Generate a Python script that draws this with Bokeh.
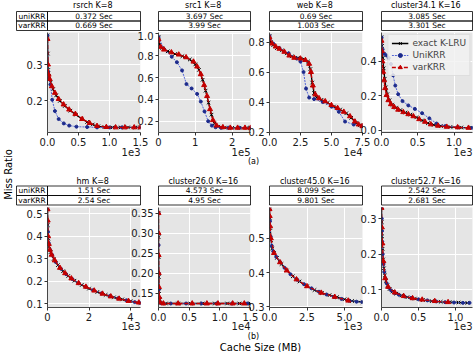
from bokeh.plotting import figure
from bokeh.models import (Range1d, FixedTicker, CustomJSTickFormatter, GridBox,
                          Legend, LegendItem)
from bokeh.embed import file_html
from bokeh.resources import INLINE
from bokeh.core.properties import value

W, H = 474, 352
FONT = "DejaVu Sans"

# ---------------- texts ----------------
titles = ["rsrch  K=8", "src1  K=8", "web  K=8", "cluster34.1  K=16",
          "hm  K=8", "cluster26.0  K=16", "cluster45.0  K=16", "cluster52.7  K=16"]
uni_times = ["0.372 Sec", "3.697 Sec", "0.69 Sec", "3.085 Sec",
             "1.51 Sec", "4.573 Sec", "8.099 Sec", "2.542 Sec"]
var_times = ["0.669 Sec", "3.99 Sec", "1.003 Sec", "3.301 Sec",
             "2.54 Sec", "4.95 Sec", "9.801 Sec", "2.681 Sec"]
row_labels = ["uniKRR", "varKRR"]
series_names = ["exact K-LRU", "UniKRR", "varKRR"]
offset_labels = ["1e3", "1e5", "1e4", "1e3", "1e3", "1e4", "1e3", "1e3"]
panel_tags = ["(a)", "(b)"]
x_label = "Cache Size (MB)"
y_label = "Miss Ratio"

# ---------------- axes ----------------
x_max = [1502, 250000, 75100, 1255, 4480, 15010, 6200, 1230]
y_lims = [(0.113, 0.388), (0.097, 1.012), (0.197, 0.864), (-0.012, 0.568),
          (0.084, 0.528), (0.114, 0.364), (0.298, 0.59), (0.05, 0.331)]
x_ticks = [[0, 500, 1000, 1500], [0, 100000, 200000], [0, 25000, 50000, 75000],
           [0, 500, 1000], [0, 2000, 4000], [0, 5000, 10000, 15000],
           [0, 2500, 5000], [0, 500, 1000]]
x_scale = [1e3, 1e5, 1e4, 1e3, 1e3, 1e4, 1e3, 1e3]
x_dec = [1, 0, 1, 1, 0, 1, 1, 1]
y_ticks = [[0.2, 0.3], [0.2, 0.4, 0.6, 0.8, 1.0], [0.2, 0.4, 0.6, 0.8], [0.0, 0.2, 0.4],
           [0.1, 0.2, 0.3, 0.4, 0.5], [0.15, 0.2, 0.25, 0.3, 0.35], [0.3, 0.4, 0.5],
           [0.1, 0.2, 0.3]]
y_dec = [1, 1, 1, 1, 1, 2, 1, 1]

# ---------------- data ----------------
rsrch_exact_x = [0, 5, 12, 25, 50, 90, 140, 200, 280, 370, 460, 550, 640, 730, 820, 920, 1050, 1180, 1300, 1420, 1500]
rsrch_exact_y = [0.38, 0.33, 0.285, 0.268, 0.25, 0.232, 0.215, 0.2, 0.186, 0.173, 0.162, 0.151, 0.142, 0.135, 0.13, 0.128, 0.127, 0.127, 0.127, 0.127, 0.127]
rsrch_uni_x = [0, 10, 25, 48, 76, 120, 180, 263, 350, 468, 640, 800, 1000, 1200, 1500]
rsrch_uni_y = [0.38, 0.28, 0.262, 0.245, 0.203, 0.172, 0.15, 0.138, 0.132, 0.129, 0.128, 0.127, 0.127, 0.127, 0.127]
rsrch_var_x = [0, 8, 18, 35, 70, 120, 180, 260, 350, 450, 560, 680, 800, 950, 1100, 1250, 1400, 1500]
rsrch_var_y = [0.37, 0.3, 0.272, 0.26, 0.24, 0.222, 0.205, 0.19, 0.176, 0.164, 0.15, 0.139, 0.131, 0.128, 0.127, 0.127, 0.127, 0.127]

src1_exact_x = [0, 3e3, 1e4, 2.5e4, 4.5e4, 6.5e4, 8.5e4, 1.0e5, 1.1e5, 1.2e5, 1.28e5, 1.36e5, 1.44e5, 1.52e5, 1.62e5, 1.8e5, 2.0e5, 2.2e5, 2.4e5, 2.5e5]
src1_exact_y = [0.97, 0.9, 0.87, 0.84, 0.815, 0.795, 0.765, 0.72, 0.67, 0.58, 0.48, 0.37, 0.26, 0.18, 0.15, 0.142, 0.14, 0.14, 0.14, 0.14]
src1_uni_x = [0, 1.5e4, 3.6e4, 5.0e4, 6.4e4, 7.6e4, 9.0e4, 1.05e5, 1.15e5, 1.25e5, 1.35e5, 1.45e5, 1.55e5, 1.7e5, 1.9e5, 2.2e5, 2.5e5]
src1_uni_y = [0.97, 0.86, 0.79, 0.74, 0.665, 0.54, 0.5, 0.45, 0.38, 0.29, 0.2, 0.16, 0.145, 0.14, 0.14, 0.14, 0.14]
src1_var_x = [0, 6e3, 1.5e4, 3.5e4, 5.5e4, 7.5e4, 9.5e4, 1.05e5, 1.15e5, 1.24e5, 1.32e5, 1.4e5, 1.48e5, 1.58e5, 1.75e5, 1.95e5, 2.15e5, 2.35e5, 2.5e5]
src1_var_y = [0.95, 0.88, 0.855, 0.83, 0.81, 0.785, 0.745, 0.7, 0.63, 0.53, 0.43, 0.31, 0.21, 0.16, 0.145, 0.14, 0.14, 0.14, 0.14]

web_exact_x = [0, 1e3, 3e3, 6e3, 1.0e4, 1.4e4, 1.8e4, 2.3e4, 2.8e4, 3.1e4, 3.3e4, 3.45e4, 3.6e4, 3.8e4, 4.2e4, 4.7e4, 5.2e4, 5.7e4, 6.2e4, 6.6e4, 7.0e4, 7.3e4, 7.5e4]
web_exact_y = [0.84, 0.8, 0.78, 0.76, 0.745, 0.725, 0.705, 0.695, 0.685, 0.67, 0.62, 0.53, 0.46, 0.43, 0.415, 0.395, 0.37, 0.35, 0.325, 0.295, 0.26, 0.245, 0.24]
web_uni_x = [0, 3e3, 8e3, 1.55e4, 2.2e4, 2.5e4, 2.75e4, 2.95e4, 3.2e4, 3.6e4, 4.3e4, 5.0e4, 5.6e4, 6.1e4, 6.8e4, 7.5e4]
web_uni_y = [0.84, 0.79, 0.76, 0.725, 0.69, 0.67, 0.6, 0.49, 0.43, 0.42, 0.4, 0.37, 0.335, 0.27, 0.25, 0.24]
web_var_x = [0, 2e3, 5e3, 8e3, 1.2e4, 1.6e4, 2.0e4, 2.5e4, 2.9e4, 3.2e4, 3.35e4, 3.5e4, 3.7e4, 4.0e4, 4.5e4, 5.0e4, 5.5e4, 6.0e4, 6.5e4, 6.9e4, 7.2e4, 7.5e4]
web_var_y = [0.83, 0.79, 0.77, 0.755, 0.735, 0.71, 0.695, 0.69, 0.68, 0.655, 0.6, 0.51, 0.45, 0.425, 0.405, 0.38, 0.36, 0.335, 0.305, 0.27, 0.25, 0.24]

c34_exact_x = [0, 8, 18, 30, 45, 60, 80, 110, 150, 200, 260, 330, 400, 480, 560, 640, 720, 820, 950, 1100, 1250]
c34_exact_y = [0.54, 0.49, 0.42, 0.36, 0.3, 0.25, 0.21, 0.175, 0.148, 0.132, 0.118, 0.104, 0.092, 0.076, 0.058, 0.042, 0.032, 0.025, 0.02, 0.017, 0.015]
c34_uni_x = [0, 15, 40, 70, 100, 130, 160, 190, 230, 290, 370, 460, 560, 660, 760, 880, 1050, 1250]
c34_uni_y = [0.54, 0.47, 0.445, 0.435, 0.42, 0.385, 0.32, 0.26, 0.21, 0.17, 0.145, 0.125, 0.1, 0.07, 0.04, 0.025, 0.018, 0.015]
c34_var_x = [0, 5, 12, 22, 35, 50, 70, 95, 130, 175, 230, 300, 370, 440, 520, 600, 680, 780, 900, 1050, 1200]
c34_var_y = [0.52, 0.46, 0.4, 0.34, 0.29, 0.245, 0.205, 0.175, 0.152, 0.136, 0.12, 0.106, 0.094, 0.082, 0.065, 0.05, 0.035, 0.027, 0.021, 0.018, 0.015]

hm_exact_x = [0, 15, 40, 80, 150, 300, 500, 750, 1000, 1300, 1650, 2000, 2400, 2800, 3200, 3600, 4000, 4480]
hm_exact_y = [0.52, 0.45, 0.39, 0.355, 0.33, 0.3, 0.272, 0.245, 0.224, 0.203, 0.184, 0.168, 0.153, 0.14, 0.129, 0.12, 0.112, 0.105]
hm_uni_x = [0, 25, 60, 120, 220, 400, 650, 900, 1200, 1500, 1850, 2200, 2600, 3000, 3400, 3800, 4200, 4480]
hm_uni_y = [0.52, 0.42, 0.37, 0.34, 0.318, 0.286, 0.256, 0.232, 0.21, 0.192, 0.176, 0.161, 0.147, 0.135, 0.125, 0.116, 0.108, 0.104]
hm_var_x = [0, 10, 30, 60, 110, 200, 350, 600, 850, 1150, 1500, 1850, 2250, 2650, 3050, 3450, 3900, 4400]
hm_var_y = [0.52, 0.47, 0.4, 0.365, 0.34, 0.318, 0.293, 0.26, 0.236, 0.213, 0.192, 0.176, 0.159, 0.145, 0.133, 0.123, 0.113, 0.106]

c26_exact_x = [0, 10, 25, 50, 90, 150, 300, 1200, 3200, 5200, 7200, 9200, 11200, 13200, 15000]
c26_exact_y = [0.35, 0.29, 0.24, 0.19, 0.155, 0.135, 0.125, 0.124, 0.124, 0.124, 0.124, 0.124, 0.124, 0.124, 0.124]
c26_uni_x = [0, 15, 40, 80, 160, 400, 2000, 4500, 7000, 9500, 12000, 14500]
c26_uni_y = [0.35, 0.27, 0.2, 0.16, 0.138, 0.125, 0.124, 0.124, 0.124, 0.124, 0.124, 0.124]
c26_var_x = [0, 8, 20, 40, 70, 120, 250, 800, 3200, 5500, 7900, 9700, 12100, 14000]
c26_var_y = [0.35, 0.3, 0.245, 0.2, 0.165, 0.14, 0.127, 0.124, 0.124, 0.124, 0.124, 0.124, 0.124, 0.124]

c45_exact_x = [0, 20, 50, 100, 180, 300, 500, 800, 1150, 1550, 2000, 2500, 3000, 3500, 4000, 4500, 5000, 5500, 6200]
c45_exact_y = [0.585, 0.56, 0.53, 0.495, 0.47, 0.457, 0.443, 0.425, 0.406, 0.389, 0.374, 0.36, 0.349, 0.34, 0.334, 0.328, 0.322, 0.317, 0.314]
c45_uni_x = [0, 30, 80, 150, 250, 450, 700, 1000, 1400, 1850, 2300, 2800, 3300, 3800, 4300, 4800, 5300, 5800, 6200]
c45_uni_y = [0.585, 0.55, 0.505, 0.478, 0.462, 0.446, 0.431, 0.414, 0.395, 0.379, 0.366, 0.354, 0.344, 0.336, 0.329, 0.323, 0.318, 0.315, 0.314]
c45_var_x = [0, 15, 40, 90, 300, 700, 1150, 1800, 2500, 3450, 4350, 5250]
c45_var_y = [0.585, 0.565, 0.535, 0.5, 0.457, 0.43, 0.406, 0.38, 0.36, 0.341, 0.329, 0.318]

c52_exact_x = [0, 4, 8, 14, 22, 32, 45, 60, 80, 110, 150, 200, 270, 350, 450, 560, 680, 800, 920, 1040, 1160]
c52_exact_y = [0.33, 0.29, 0.25, 0.215, 0.185, 0.16, 0.14, 0.125, 0.112, 0.102, 0.095, 0.089, 0.084, 0.079, 0.075, 0.071, 0.068, 0.066, 0.065, 0.064, 0.063]
c52_uni_x = [0, 3, 6, 10, 16, 26, 38, 52, 70, 95, 130, 175, 235, 310, 400, 500, 620, 740, 860, 980, 1100, 1190]
c52_uni_y = [0.33, 0.3, 0.265, 0.235, 0.2, 0.172, 0.15, 0.132, 0.118, 0.106, 0.098, 0.091, 0.086, 0.081, 0.077, 0.073, 0.07, 0.067, 0.065, 0.064, 0.063, 0.063]
c52_var_x = [0, 5, 12, 25, 50, 90, 180, 300, 420, 550, 720, 900]
c52_var_y = [0.33, 0.275, 0.23, 0.18, 0.132, 0.108, 0.092, 0.082, 0.076, 0.072, 0.068, 0.065]

panel_series = [
    (rsrch_exact_x, rsrch_exact_y, rsrch_uni_x, rsrch_uni_y, rsrch_var_x, rsrch_var_y),
    (src1_exact_x, src1_exact_y, src1_uni_x, src1_uni_y, src1_var_x, src1_var_y),
    (web_exact_x, web_exact_y, web_uni_x, web_uni_y, web_var_x, web_var_y),
    (c34_exact_x, c34_exact_y, c34_uni_x, c34_uni_y, c34_var_x, c34_var_y),
    (hm_exact_x, hm_exact_y, hm_uni_x, hm_uni_y, hm_var_x, hm_var_y),
    (c26_exact_x, c26_exact_y, c26_uni_x, c26_uni_y, c26_var_x, c26_var_y),
    (c45_exact_x, c45_exact_y, c45_uni_x, c45_uni_y, c45_var_x, c45_var_y),
    (c52_exact_x, c52_exact_y, c52_uni_x, c52_uni_y, c52_var_x, c52_var_y),
]

# ---------------- layout constants ----------------
FRAME_L = [47, 158, 269, 381]
FRAME_W = [93, 92, 93, 91]
FIG_L = [0, 120, 231, 343]
FIG_W = [150, 141, 141, 131]
FRAME_H = 100
BORDER_B = 33
TITLE_Y = [5, 181]
TABLE_Y = [(11, 20.5, 30), (185.5, 195, 204.5)]
OFFSET_Y = [151, 325]
LABEL_COL_L = 16

BLACK = "#000000"
UNI_LINE = "#5566d6"
UNI_MARK = "#1c2a8c"
VAR_COL = "#c40000"


def sy(px):
    return H - px


def make_panel(i):
    col = i % 4
    fl, fw, gl, gw = FRAME_L[col], FRAME_W[col], FIG_L[col], FIG_W[col]
    p = figure(width=gw, height=1 + FRAME_H + BORDER_B,
               x_range=Range1d(0, x_max[i]), y_range=Range1d(*y_lims[i]),
               output_backend="svg", toolbar_location=None,
               min_border_left=fl - gl, min_border_right=gl + gw - fl - fw,
               min_border_top=1, min_border_bottom=BORDER_B,
               background_fill_color="#E5E5E5", border_fill_alpha=0,
               outline_line_color=None)
    p.frame_align = False
    p.xaxis.ticker = FixedTicker(ticks=x_ticks[i])
    p.yaxis.ticker = FixedTicker(ticks=y_ticks[i])
    p.xaxis.formatter = CustomJSTickFormatter(
        code="return (tick/%g).toFixed(%d);" % (x_scale[i], x_dec[i]))
    p.yaxis.formatter = CustomJSTickFormatter(
        code="return tick.toFixed(%d);" % y_dec[i])
    for ax in (p.xaxis, p.yaxis):
        ax.major_label_text_font = FONT
        ax.major_label_text_font_size = "10px"
        ax.major_label_text_color = "#1a1a1a"
        ax.major_label_standoff = 2
        ax.major_tick_out = 3
        ax.major_tick_in = 0
        ax.major_tick_line_color = "#333333"
        ax.minor_tick_line_color = None
        ax.axis_line_color = "#333333"
        ax.axis_line_width = 0.9
    p.xgrid.grid_line_color = "white"
    p.ygrid.grid_line_color = "white"
    p.xgrid.grid_line_width = 1
    p.ygrid.grid_line_width = 1

    ex, ey, ux, uy, vx, vy = panel_series[i]
    r1 = p.line(ex, ey, line_color=BLACK, line_width=1.3)
    s1 = p.scatter(ex, ey, marker="x", size=5, line_color=BLACK, line_width=1)
    r2 = p.line(ux, uy, line_color=UNI_LINE, line_width=1, line_dash="2 1")
    s2 = p.scatter(ux, uy, marker="circle", size=3, fill_color=UNI_MARK, line_color=UNI_MARK)
    r3 = p.line(vx, vy, line_color=VAR_COL, line_width=1.3, line_dash="4 2")
    s3 = p.scatter(vx, vy, marker="triangle", size=5, fill_color=VAR_COL, line_color=VAR_COL)

    if i == 3:
        legend = Legend(items=[LegendItem(label=series_names[0], renderers=[r1, s1]),
                               LegendItem(label=series_names[1], renderers=[r2, s2]),
                               LegendItem(label=series_names[2], renderers=[r3, s3])],
                        location="top_right")
        legend.label_text_font = FONT
        legend.label_text_font_size = "9px"
        legend.glyph_width = 17
        legend.glyph_height = 10
        legend.label_height = 10
        legend.label_standoff = 4
        legend.spacing = 2
        legend.padding = 3
        legend.margin = 2
        legend.background_fill_color = "#F2F2F2"
        legend.background_fill_alpha = 0.85
        legend.border_line_color = "#CCCCCC"
        p.add_layout(legend)
    return p


panels = [make_panel(i) for i in range(8)]

# ---------------- base canvas with titles, tables and labels ----------------
base = figure(width=W, height=H, x_range=Range1d(0, W), y_range=Range1d(0, H),
              output_backend="svg", toolbar_location=None, min_border=0,
              x_axis_type=None, y_axis_type=None, outline_line_color=None,
              background_fill_color="white", border_fill_color="white")
base.frame_align = False

ql, qr, qt, qb = [], [], [], []
tx, ty, tt = [], [], []
lx, ly, lt = [], [], []
ox, oy, ot = [], [], []
hx, hy, ht = [], [], []
for i in range(8):
    r, col = i // 4, i % 4
    fl, fw = FRAME_L[col], FRAME_W[col]
    top, mid, bot = TABLE_Y[r]
    cx = fl + fw / 2
    for (a, b) in ((top, mid), (mid, bot)):
        ql.append(fl); qr.append(fl + fw); qt.append(sy(a)); qb.append(sy(b))
        if col == 0:
            ql.append(LABEL_COL_L); qr.append(fl); qt.append(sy(a)); qb.append(sy(b))
    tx += [cx, cx]; ty += [sy((top + mid) / 2), sy((mid + bot) / 2)]
    tt += [uni_times[i], var_times[i]]
    if col == 0:
        lcx = (LABEL_COL_L + fl) / 2
        lx += [lcx, lcx]; ly += [sy((top + mid) / 2), sy((mid + bot) / 2)]
        lt += row_labels
    hx.append(cx); hy.append(sy(TITLE_Y[r])); ht.append(titles[i])
    ox.append(fl + fw); oy.append(sy(OFFSET_Y[r])); ot.append(offset_labels[i])

CENTER = dict(text_align=value("center"), text_baseline=value("middle"))
base.quad(left=ql, right=qr, top=qt, bottom=qb, fill_color=None,
          line_color="black", line_width=0.8)
base.text(x=tx, y=ty, text=tt, text_font=value(FONT), text_font_size=value("7.5px"),
          text_color="black", **CENTER)
base.text(x=lx, y=ly, text=lt, text_font=value(FONT), text_font_size=value("7.5px"),
          text_color="black", **CENTER)
base.text(x=hx, y=hy, text=ht, text_font=value(FONT), text_font_size=value("8px"),
          text_color="black", **CENTER)
base.text(x=ox, y=oy, text=ot, text_font=value(FONT), text_font_size=value("10px"),
          text_align=value("right"), text_baseline=value("middle"), text_color="#1a1a1a")
base.text(x=[253, 253], y=[sy(161), sy(336)], text=panel_tags, text_font=value(FONT),
          text_font_size=value("8px"), text_color="black", **CENTER)
base.text(x=[260], y=[sy(347)], text=[x_label], text_font=value(FONT),
          text_font_size=value("10px"), text_color="black", **CENTER)
base.text(x=[8], y=[sy(174)], text=[y_label], text_font=value(FONT),
          text_font_size=value("10px"), angle=1.5708, text_color="black", **CENTER)

# ---------------- grid with overlapping figures ----------------
cols = ["120px", "30px", "81px", "30px", "82px", "29px", "102px"]
rows = ["31px", "134px", "41px", "134px", "12px"]
col_spans = [(0, 2), (1, 3), (3, 3), (5, 2)]
children = [(base, 0, 0, 5, 7)]
for i, p in enumerate(panels):
    rr = 1 if i < 4 else 3
    c, span = col_spans[i % 4]
    children.append((p, rr, c, 1, span))

layout = GridBox(children=children, rows=rows, cols=cols, spacing=0)

open("out.html", "w").write(file_html(layout, INLINE))
